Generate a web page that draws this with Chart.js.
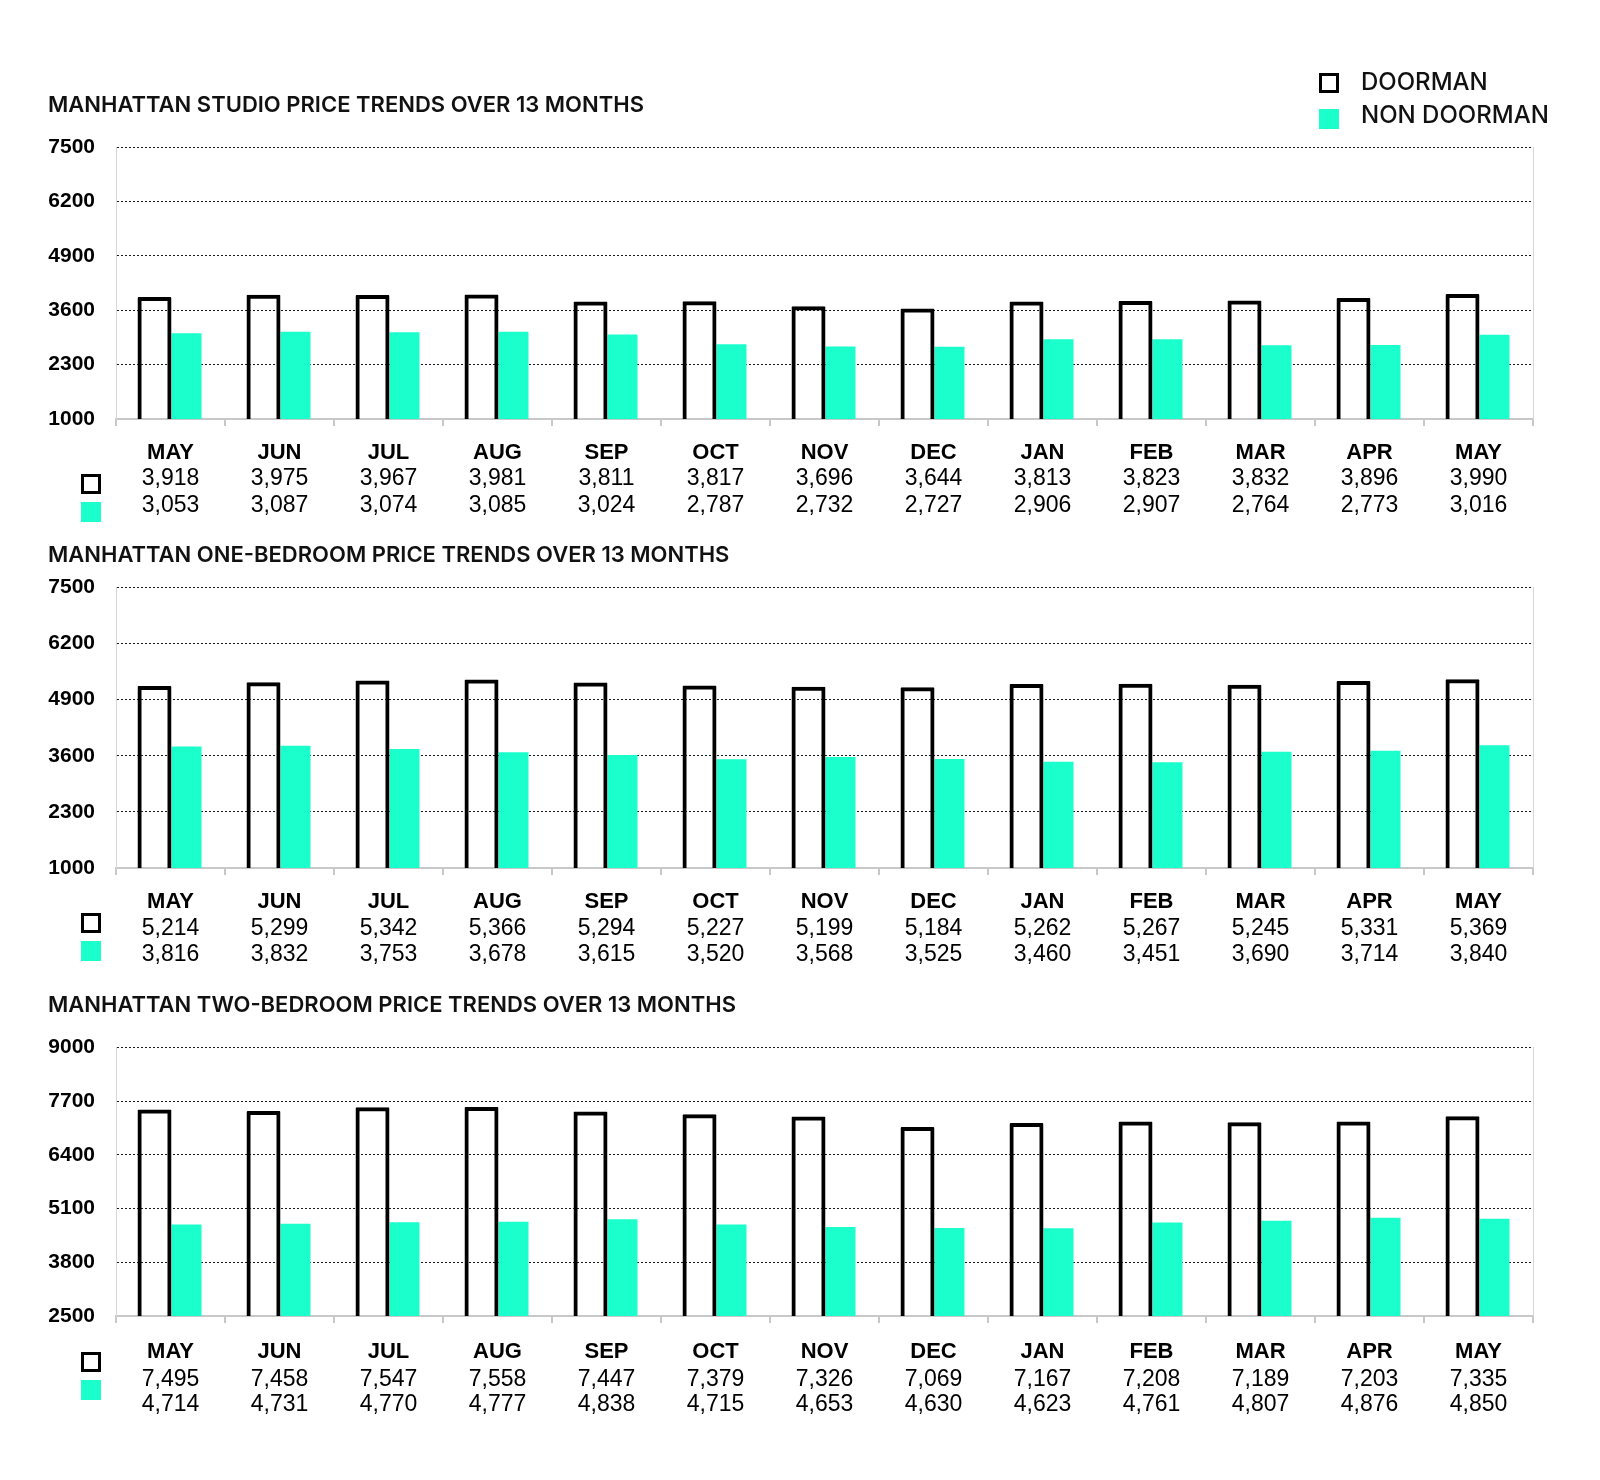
<!DOCTYPE html>
<html>
<head>
<meta charset="utf-8">
<title>Manhattan rental price trends</title>
<script src="https://cdn.jsdelivr.net/npm/chart.js@4.4.1/dist/chart.umd.min.js"></script>
<style>
  body { margin: 0; background: #fff; }
  #wrap { position: relative; width: 1600px; height: 1480px; overflow: hidden; }
  .panel { position: absolute; left: 0; width: 1600px; }
  .sw { position: absolute; width: 20px; height: 20px; box-sizing: border-box; }
  .sw.hollow { border: 3px solid #000; background: #fff; }
  .sw.fill { background: #1affcc; }
  .lgtext { position: absolute; font-family: Inter, 'Noto Sans', sans-serif; font-weight: 500;
            font-size: 24px; line-height: 24px; color: #111; white-space: nowrap; }
</style>
</head>
<body>
<div id="wrap"></div>
<script>
// ---- data ----
const months = ['MAY', 'JUN', 'JUL', 'AUG', 'SEP', 'OCT', 'NOV', 'DEC', 'JAN', 'FEB', 'MAR', 'APR', 'MAY'];
const seriesNames = ['DOORMAN', 'NON DOORMAN'];

const studioDoorman    = [3918, 3975, 3967, 3981, 3811, 3817, 3696, 3644, 3813, 3823, 3832, 3896, 3990];
const studioNonDoorman = [3053, 3087, 3074, 3085, 3024, 2787, 2732, 2727, 2906, 2907, 2764, 2773, 3016];

const oneBedDoorman    = [5214, 5299, 5342, 5366, 5294, 5227, 5199, 5184, 5262, 5267, 5245, 5331, 5369];
const oneBedNonDoorman = [3816, 3832, 3753, 3678, 3615, 3520, 3568, 3525, 3460, 3451, 3690, 3714, 3840];

const twoBedDoorman    = [7495, 7458, 7547, 7558, 7447, 7379, 7326, 7069, 7167, 7208, 7189, 7203, 7335];
const twoBedNonDoorman = [4714, 4731, 4770, 4777, 4838, 4715, 4653, 4630, 4623, 4761, 4807, 4876, 4850];

const smallTicks = [1000, 2300, 3600, 4900, 6200, 7500];
const twoBedTicks = [2500, 3800, 5100, 6400, 7700, 9000];

// ---- look ----
const CYAN = '#1affcc';
const ARIAL = "'Liberation Sans', Arial, sans-serif";
const X_H = 46;    // height of month axis
const X2_H = 70;   // height of value rows axis
const TITLE_SIZE = 22;

const panels = [
  { title: 'MANHATTAN STUDIO PRICE TRENDS OVER 13 MONTHS', doorman: studioDoorman, non: studioNonDoorman,
    ticks: smallTicks, top: 60, titleCenter: 105, chartTop: 147.3, chartBottom: 418.5,
    monthOffset: 34.3, row1Offset: 60, rowGap: 27, swatchTop: 474 },
  { title: 'MANHATTAN ONE-BEDROOM PRICE TRENDS OVER 13 MONTHS', doorman: oneBedDoorman, non: oneBedNonDoorman,
    ticks: smallTicks, top: 530, titleCenter: 555, chartTop: 587.3, chartBottom: 868.3,
    monthOffset: 33.5, row1Offset: 61, rowGap: 26, swatchTop: 913 },
  { title: 'MANHATTAN TWO-BEDROOM PRICE TRENDS OVER 13 MONTHS', doorman: twoBedDoorman, non: twoBedNonDoorman,
    ticks: twoBedTicks, top: 980, titleCenter: 1005, chartTop: 1047.3, chartBottom: 1316,
    monthOffset: 35.7, row1Offset: 63.3, rowGap: 25, swatchTop: 1352 }
];

const wrap = document.getElementById('wrap');
const fmt = v => v.toLocaleString('en-US');

function addSwatch(left, top, hollow) {
  const d = document.createElement('div');
  d.className = 'sw ' + (hollow ? 'hollow' : 'fill');
  d.style.left = left + 'px';
  d.style.top = top + 'px';
  wrap.appendChild(d);
}

function buildPanel(p) {
  const H = Math.round(p.chartBottom - p.top + X_H + X2_H);
  const div = document.createElement('div');
  div.className = 'panel';
  div.style.top = p.top + 'px';
  div.style.height = H + 'px';
  const canvas = document.createElement('canvas');
  canvas.width = 1600;
  canvas.height = H;
  div.appendChild(canvas);
  wrap.appendChild(div);

  const titleLH = TITLE_SIZE * 1.2;
  const tickMin = p.ticks[0];

  new Chart(canvas.getContext('2d'), {
    type: 'bar',
    data: {
      labels: months,
      datasets: [
        {
          label: seriesNames[0],
          data: p.doorman,
          backgroundColor: 'rgba(255,255,255,0)',
          borderColor: '#000',
          borderWidth: 4,
          borderSkipped: false,
          borderRadius: 1,
          barPercentage: 34 / 32,
          categoryPercentage: 64 / 109
        },
        {
          label: seriesNames[1],
          data: p.non,
          backgroundColor: CYAN,
          borderWidth: 0,
          barPercentage: 30 / 32,
          categoryPercentage: 64 / 109
        }
      ]
    },
    options: {
      responsive: false,
      animation: false,
      devicePixelRatio: 1,
      layout: { padding: { left: 48, right: 67, top: 0, bottom: 0 } },
      plugins: {
        legend: { display: false },
        tooltip: { enabled: false },
        title: {
          display: true,
          text: p.title,
          align: 'start',
          color: '#111',
          font: { family: "Inter, 'Noto Sans', sans-serif", size: TITLE_SIZE, weight: '600', lineHeight: 1.2 },
          padding: { top: p.titleCenter - p.top - titleLH / 2, bottom: p.chartTop - p.titleCenter - titleLH / 2 }
        }
      },
      scales: {
        x: {
          type: 'category',
          position: 'bottom',
          weight: 0,
          offset: true,
          grid: { display: true, drawOnChartArea: false, drawTicks: true, tickLength: 7, color: '#c8c8c8', lineWidth: 2, offset: true },
          border: { display: true, color: '#c8c8c8', width: 2 },
          ticks: {
            autoSkip: false, maxRotation: 0, color: '#000',
            padding: p.monthOffset - 7 - 13.2,
            font: { family: ARIAL, size: 22, weight: 'bold', lineHeight: 1.2 }
          },
          afterFit: s => { s.height = X_H; }
        },
        x2: {
          type: 'category',
          position: 'bottom',
          weight: 1,
          offset: true,
          labels: months.map((m, i) => [fmt(p.doorman[i]), fmt(p.non[i])]),
          grid: { display: false, drawTicks: false },
          border: { display: false },
          ticks: {
            autoSkip: false, maxRotation: 0, color: '#000',
            padding: p.row1Offset - X_H - p.rowGap / 2,
            font: { family: ARIAL, size: 23, weight: 'normal', lineHeight: p.rowGap / 23 }
          },
          afterFit: s => { s.height = X2_H; }
        },
        y: {
          type: 'linear',
          position: 'left',
          min: tickMin,
          max: p.ticks[p.ticks.length - 1],
          afterBuildTicks: s => { s.ticks = p.ticks.map(v => ({ value: v })); },
          grid: {
            drawTicks: false,
            lineWidth: 1,
            color: c => (c.tick && c.tick.value === tickMin) ? 'rgba(0,0,0,0)' : '#1a1a1a'
          },
          border: { display: true, color: '#d6d6d6', width: 1, dash: [2, 2] },
          ticks: {
            padding: 21, color: '#000',
            font: { family: ARIAL, size: 21, weight: 'bold' },
            callback: v => String(v)
          },
          afterFit: s => { s.width = 68; }
        },
        y2: {
          type: 'linear',
          position: 'right',
          display: true,
          grid: { display: false, drawTicks: false },
          border: { display: true, color: '#d6d6d6', width: 1 },
          ticks: { display: false },
          afterFit: s => { s.width = 0; }
        }
      }
    }
  });

  // small key next to the value rows
  addSwatch(81, p.swatchTop, true);
  addSwatch(81, p.swatchTop + 28, false);
}

panels.forEach(buildPanel);

// top-right legend
const legendRows = [
  { name: seriesNames[0], hollow: true, boxTop: 73, textTop: 70.3 },
  { name: seriesNames[1], hollow: false, boxTop: 109, textTop: 103.3 }
];
legendRows.forEach(r => {
  addSwatch(1319, r.boxTop, r.hollow);
  const t = document.createElement('div');
  t.className = 'lgtext';
  t.style.left = '1361px';
  t.style.top = r.textTop + 'px';
  t.textContent = r.name;
  wrap.appendChild(t);
});
</script>
</body>
</html>
